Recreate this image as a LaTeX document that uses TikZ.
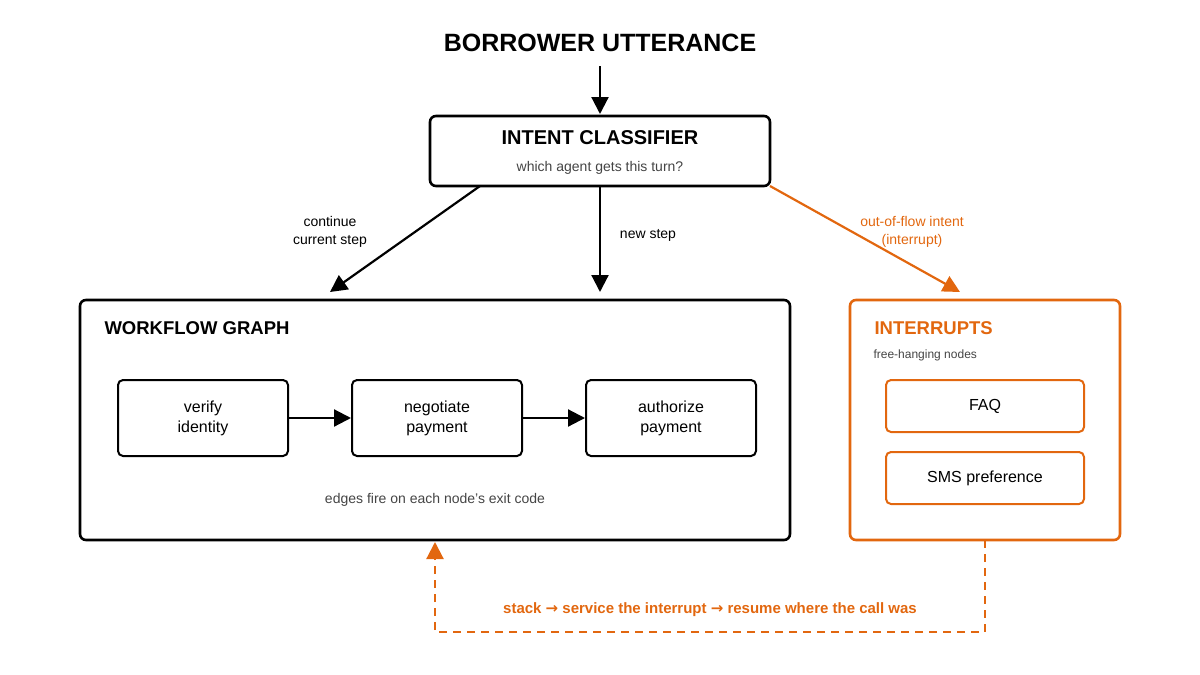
\documentclass[tikz,border=0pt]{standalone}
\usepackage{fontspec}
\setmainfont{Liberation Sans}
\newfontfamily\djv{DejaVu Sans}
\usetikzlibrary{arrows.meta}
\definecolor{org}{HTML}{E2670F}
\definecolor{txtgray}{HTML}{444444}
\begin{document}
\begin{tikzpicture}[x=1pt,y=-1pt,
  box/.style={draw,line width=2.6pt,rounded corners=6pt},
  sbox/.style={draw,line width=2pt,rounded corners=5pt,align=center,font=\fontsize{16}{20}\selectfont},
  arr/.style={line width=2.2pt,-{Triangle[length=17pt,width=17pt]}},
  lbl/.style={font=\fontsize{14}{18}\selectfont,align=center}]
\useasboundingbox (0,0) rectangle (1200,675);
\node[font=\bfseries\fontsize{25}{30}\selectfont] (title) at (600,43) {BORROWER UTTERANCE};
\draw[box] (430,116) rectangle (770,186);
\node[font=\bfseries\fontsize{20}{24}\selectfont] (ict) at (600,138) {INTENT CLASSIFIER};
\node[font=\fontsize{14}{17}\selectfont,text=txtgray] (ics) at (600,168) {which agent gets this turn?};
\coordinate (t0) at (600,66); \coordinate (t1) at (600,114);
\draw[arr] (t0) -- (t1);
% workflow
\draw[box] (80,300) rectangle (790,540);
\node[anchor=west,font=\bfseries\fontsize{18.5}{22}\selectfont] (wg) at (101,328) {WORKFLOW GRAPH};
\node[sbox,minimum width=170pt,minimum height=76pt] (v) at (203,418) {verify\\identity};
\node[sbox,minimum width=170pt,minimum height=76pt] (n) at (437,418) {negotiate\\payment};
\node[sbox,minimum width=170pt,minimum height=76pt] (a) at (671,418) {authorize\\payment};
\draw[arr] (v) -- (n);
\draw[arr] (n) -- (a);
\node[font=\fontsize{14}{17}\selectfont,text=txtgray] (ef) at (435,500) {edges fire on each node's exit code};
% interrupts
\draw[box,org] (850,300) rectangle (1120,540);
\node[anchor=west,font=\bfseries\fontsize{18.5}{22}\selectfont,text=org] (it) at (871,328) {INTERRUPTS};
\node[anchor=west,font=\fontsize{12}{14}\selectfont,text=txtgray] (fh) at (870,355) {free-hanging nodes};
\node[sbox,org,text=black,minimum width=198pt,minimum height=52pt] (faq) at (985,406) {FAQ};
\node[sbox,org,text=black,minimum width=198pt,minimum height=52pt] (sms) at (985,478) {SMS preference};
% classifier arrows
\coordinate (c1) at (480,186); \coordinate (c1e) at (330,292);
\coordinate (c2) at (600,186); \coordinate (c2e) at (600,292);
\coordinate (c3) at (770,186); \coordinate (c3e) at (960,292);
\draw[arr] (c1) -- (c1e);
\draw[arr] (c2) -- (c2e);
\draw[arr,org] (c3) -- (c3e);
\node[lbl] (l1) at (330,232) {continue\\current step};
\node[lbl] (l2) at (648,235) {new step};
\node[lbl,text=org] (l3) at (912,232) {out-of-flow intent\\(interrupt)};
% return
\coordinate (r0) at (985,540); \coordinate (r1) at (985,632);
\coordinate (r2) at (435,632); \coordinate (r3) at (435,542);
\draw[org,line width=2.2pt,dash pattern=on 8pt off 6pt,-{Triangle[length=17pt,width=17pt]}] (r0) -- (r1) -- (r2) -- (r3);
\node[font=\bfseries\fontsize{15}{18}\selectfont,text=org] (rl) at (710,610) {stack {\djv →} service the interrupt {\djv →} resume where the call was};
\end{tikzpicture}
\end{document}
